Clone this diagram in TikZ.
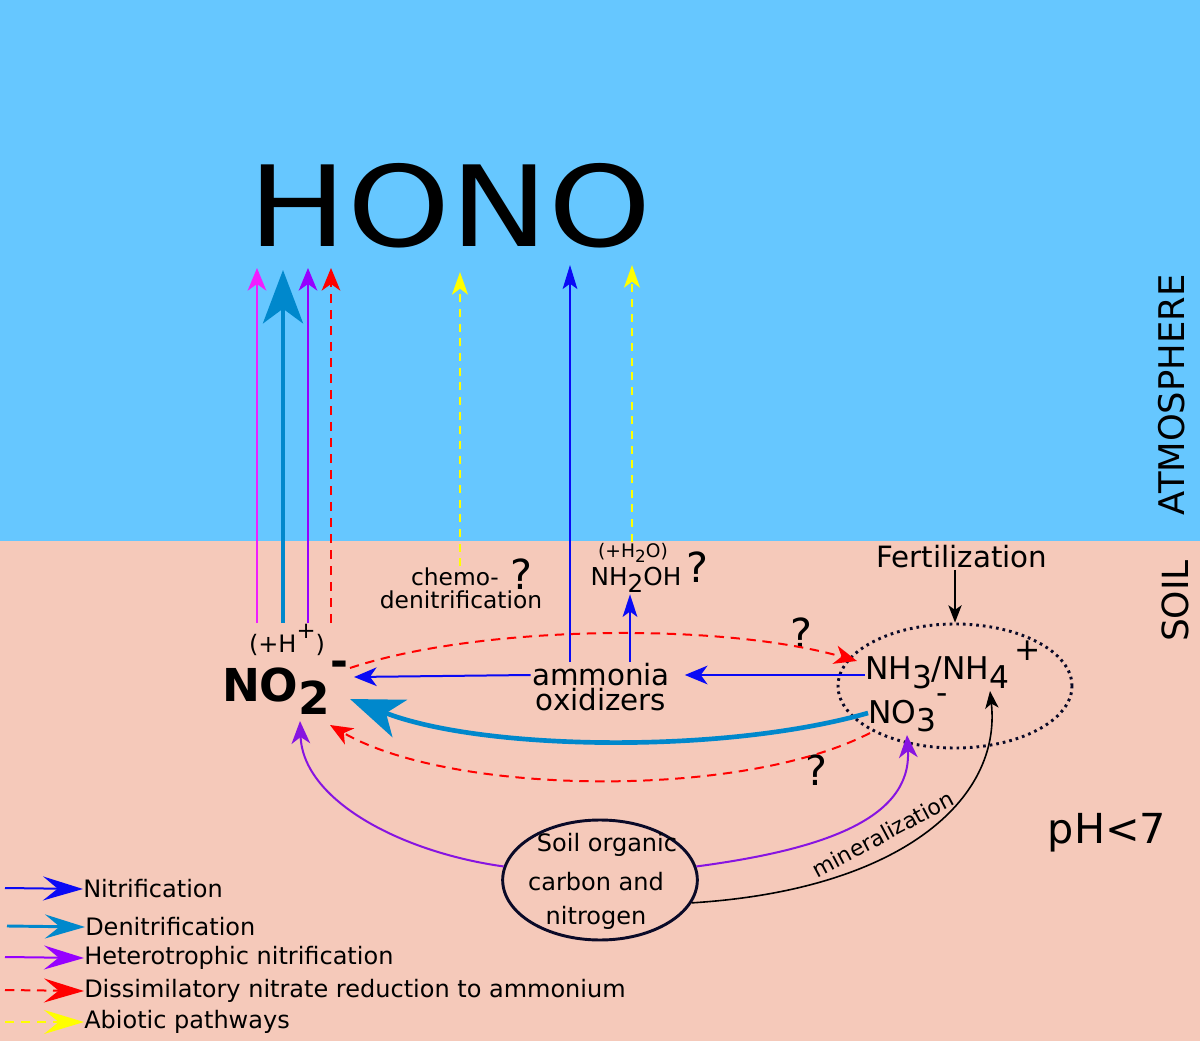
\documentclass[tikz,border=0pt]{standalone}
\usepackage{fontspec}
\usepackage{graphicx}
\setmainfont{DejaVu Sans}
\usetikzlibrary{arrows.meta,shapes.geometric}
\definecolor{sky}{RGB}{102,199,255}
\definecolor{soilc}{RGB}{245,201,186}
\definecolor{nitr}{RGB}{10,10,245}
\definecolor{denit}{RGB}{0,136,204}
\definecolor{hetero}{RGB}{150,0,255}
\definecolor{hetcurve}{RGB}{135,20,225}
\definecolor{magen}{RGB}{240,30,255}
\definecolor{dnrac}{RGB}{255,0,0}
\definecolor{abio}{RGB}{255,255,0}
\definecolor{navy}{RGB}{10,10,40}
\newcommand\lowr[1]{\raisebox{-0.28em}{#1}}
\newcommand\highr[1]{\raisebox{0.55em}{#1}}
\tikzset{
  tipsm/.tip={Stealth[length=17pt,width=14pt,inset=5pt]},
  tipmd/.tip={Stealth[length=17pt,width=12pt,inset=4.5pt]},
  tipbig/.tip={Stealth[length=40pt,width=30pt,inset=11pt]},
  tiplg/.tip={Stealth[length=30pt,width=18pt,inset=11pt]},
  tipbk/.tip={Stealth[length=13pt,width=10pt,inset=3.5pt]},
  txt/.style={inner sep=1pt, font=\fontsize{17.5}{17.5}\selectfont},
  mid/.style={inner sep=1pt, font=\fontsize{22}{22}\selectfont},
  qmark/.style={inner sep=0pt, font=\fontsize{31}{31}\selectfont},
  nitrl/.style={draw=nitr, line width=1.5pt, -tipsm},
  magl/.style={draw=magen, line width=1.5pt, -tipsm},
  hetl/.style={draw=hetero, line width=1.5pt, -tipsm},
  hetc/.style={draw=hetcurve, line width=1.5pt, -tipsm},
  denl/.style={draw=denit, line width=3.5pt, -tipbig},
  dnral/.style={draw=dnrac, line width=1.5pt, dash pattern=on 7pt off 5pt, -tipsm},
  abiol/.style={draw=abio, line width=1.5pt, dash pattern=on 6pt off 5pt, -tipmd},
  blkl/.style={draw=black, line width=1.2pt, -tipbk},
  legtxt/.style={anchor=west, inner sep=0pt, font=\fontsize{18}{18}\selectfont},
}
\begin{document}
\begin{tikzpicture}[x=0.75pt,y=-0.75pt]
\useasboundingbox (0,0) rectangle (1200,1041);
\fill[sky] (0,0) rectangle (1200,541);
\fill[soilc] (0,541) rectangle (1200,1041);

% titles
\node[inner sep=0pt, font=\fontsize{84}{84}\selectfont] (hono) at (450,206) {\scalebox{1.17}[1]{HONO}};
\node[inner sep=0pt, rotate=90, font=\fontsize{26.5}{26.5}\selectfont] (atm) at (1172,395) {ATMOSPHERE};
\node[inner sep=0pt, rotate=90, font=\fontsize{27}{27}\selectfont] (soillab) at (1175,601) {SOIL};

% soil texts
\node[txt, font=\fontsize{18}{18}\selectfont] (h) at (287,640) {(+H\highr{\scalebox{0.95}{+}})};
\node[inner sep=0pt, font=\fontsize{34}{34}\selectfont\bfseries] (no2) at (285,688) {NO\lowr{2}\highr{\scalebox{0.95}{-}}};
\node[txt] (chemo) at (455,577) {chemo-};
\node[txt] (denitr) at (461,600) {denitrification};
\node[qmark] (q1) at (521,574) {?};
\node[inner sep=1pt, font=\fontsize{14}{14}\selectfont] (h2o) at (633,553) {(+H\lowr{\scalebox{0.9}{2}}O)};
\node[inner sep=1pt, font=\fontsize{18.5}{18.5}\selectfont] (nh2oh) at (636,580) {NH\lowr{2}OH};
\node[qmark] (q2) at (697,567) {?};
\node[mid] (amm) at (601,675) {ammonia};
\node[mid] (oxi) at (601,700) {oxidizers};
\node[mid] (fert) at (962,557) {Fertilization};
\node[inner sep=0pt, font=\fontsize{23.5}{23.5}\selectfont] (nh) at (953,665) {NH\lowr{3}/NH\lowr{4}\raisebox{0.6em}{\,+}};
\node[inner sep=0pt, font=\fontsize{23.5}{23.5}\selectfont] (no3) at (908,713) {NO\lowr{3}\raisebox{0.62em}{-}};
\node[draw=navy, line width=2.2pt, dash pattern=on 2pt off 3pt, ellipse, minimum width=175.5pt, minimum height=93pt] (pool) at (955,686) {};
\node[qmark] (q3) at (801,633) {?};
\node[qmark] (q4) at (816,770) {?};
\node[inner sep=0pt, font=\fontsize{31}{31}\selectfont] (ph) at (1107,833) {pH<7};

% soil organic pool
\node[draw=navy, line width=2.2pt, ellipse, minimum width=146pt, minimum height=90pt] (som) at (600,880) {};
\node[txt, font=\fontsize{18}{18}\selectfont] (s1) at (607,845) {Soil organic};
\node[txt, font=\fontsize{18}{18}\selectfont] (s2) at (596,882) {carbon and};
\node[txt, font=\fontsize{18}{18}\selectfont] (s3) at (596,918) {nitrogen};

% top arrow heads
\coordinate (tm) at (257,268);
\coordinate (tc) at (283,270);
\coordinate (tp) at (308,268);
\coordinate (tr) at (331,268);
\coordinate (ty1) at (460,272);
\coordinate (tb) at (570,265);
\coordinate (ty2) at (632,265);

\draw[magl] (h.north -| tm) -- (tm);
\draw[denl] (h.north -| tc) -- (tc);
\draw[hetl] (h.north -| tp) -- (tp);
\draw[dnral] (h.north -| tr) -- (tr);
\draw[abiol] (chemo.north -| ty1) -- (ty1);
\draw[nitrl, -{Stealth[length=18pt,width=11pt,inset=4pt]}] (amm.north -| tb) -- (tb);
\draw[abiol] (h2o.north -| ty2) -- (ty2);

% endpoints near NO2
\coordinate (no2r) at (354,677);
\coordinate (no2c) at (350,699);
\coordinate (no2t) at (350,668);
\coordinate (no2d) at (330,725);
\coordinate (no2p) at (300,721);
\coordinate (nhw) at (857,661);
\coordinate (no3r) at (870,733);
\coordinate (no3p) at (907,735);
\coordinate (nh4m) at (990,691);

% nitrification
\draw[nitrl] (amm.west) -- (no2r);
\draw[nitrl, shorten >=10pt] (nh.west |- amm.east) -- (amm.east);
\draw[nitrl, -{Stealth[length=17pt,width=11pt,inset=4pt]}] (amm.north -| nh2oh.south) ++(-6,0) coordinate (ab) (ab) -- (ab |- nh2oh.south);

% denitrification
\draw[denl] (no3.west) .. controls (720,755) and (480,750) .. (no2c);

% DNRA
\draw[dnral] (no2t) .. controls (480,625) and (720,622) .. (nhw);
\draw[dnral] (no3r) .. controls (740,800) and (450,795) .. (no2d);

% heterotrophic
\draw[hetc] (som.172) .. controls (400,852) and (303,800) .. (no2p);
\draw[hetc] (som.8) .. controls (820,850) and (912,820) .. (no3p);

% mineralization
\draw[blkl] (som.-14) .. controls (900,890) and (1002,800) .. (nh4m);
\node[inner sep=0pt, rotate=28, font=\fontsize{16.5}{16.5}\selectfont] (minl) at (883,834) {mineralization};

% fertilization
\draw[blkl] (fert.south -| pool.north) -- (pool.north);

% legend
\coordinate (ls1) at (5,888);
\coordinate (ls2) at (7,926);
\coordinate (ls3) at (5,957);
\coordinate (ls4) at (5,990);
\coordinate (ls5) at (5,1022);
\node[legtxt] (lt1) at (83,889) {Nitrification};
\node[legtxt] (lt2) at (85,927) {Denitrification};
\node[legtxt] (lt3) at (84,958) {Heterotrophic nitrification};
\node[legtxt] (lt4) at (84,991) {Dissimilatory nitrate reduction to ammonium};
\node[legtxt] (lt5) at (84,1022) {Abiotic pathways};
\draw[draw=nitr, line width=1.5pt, -tiplg] (ls1) -- (lt1.west);
\draw[draw=denit, line width=2.2pt, -tiplg] (ls2) -- (lt2.west);
\draw[draw=hetero, line width=1.5pt, -tiplg] (ls3) -- (lt3.west);
\draw[draw=dnrac, line width=1.5pt, dash pattern=on 7pt off 5pt, -tiplg] (ls4) -- (lt4.west);
\draw[draw=abio, line width=1.5pt, dash pattern=on 7pt off 5pt, -tiplg] (ls5) -- (lt5.west);
\end{tikzpicture}
\end{document}
